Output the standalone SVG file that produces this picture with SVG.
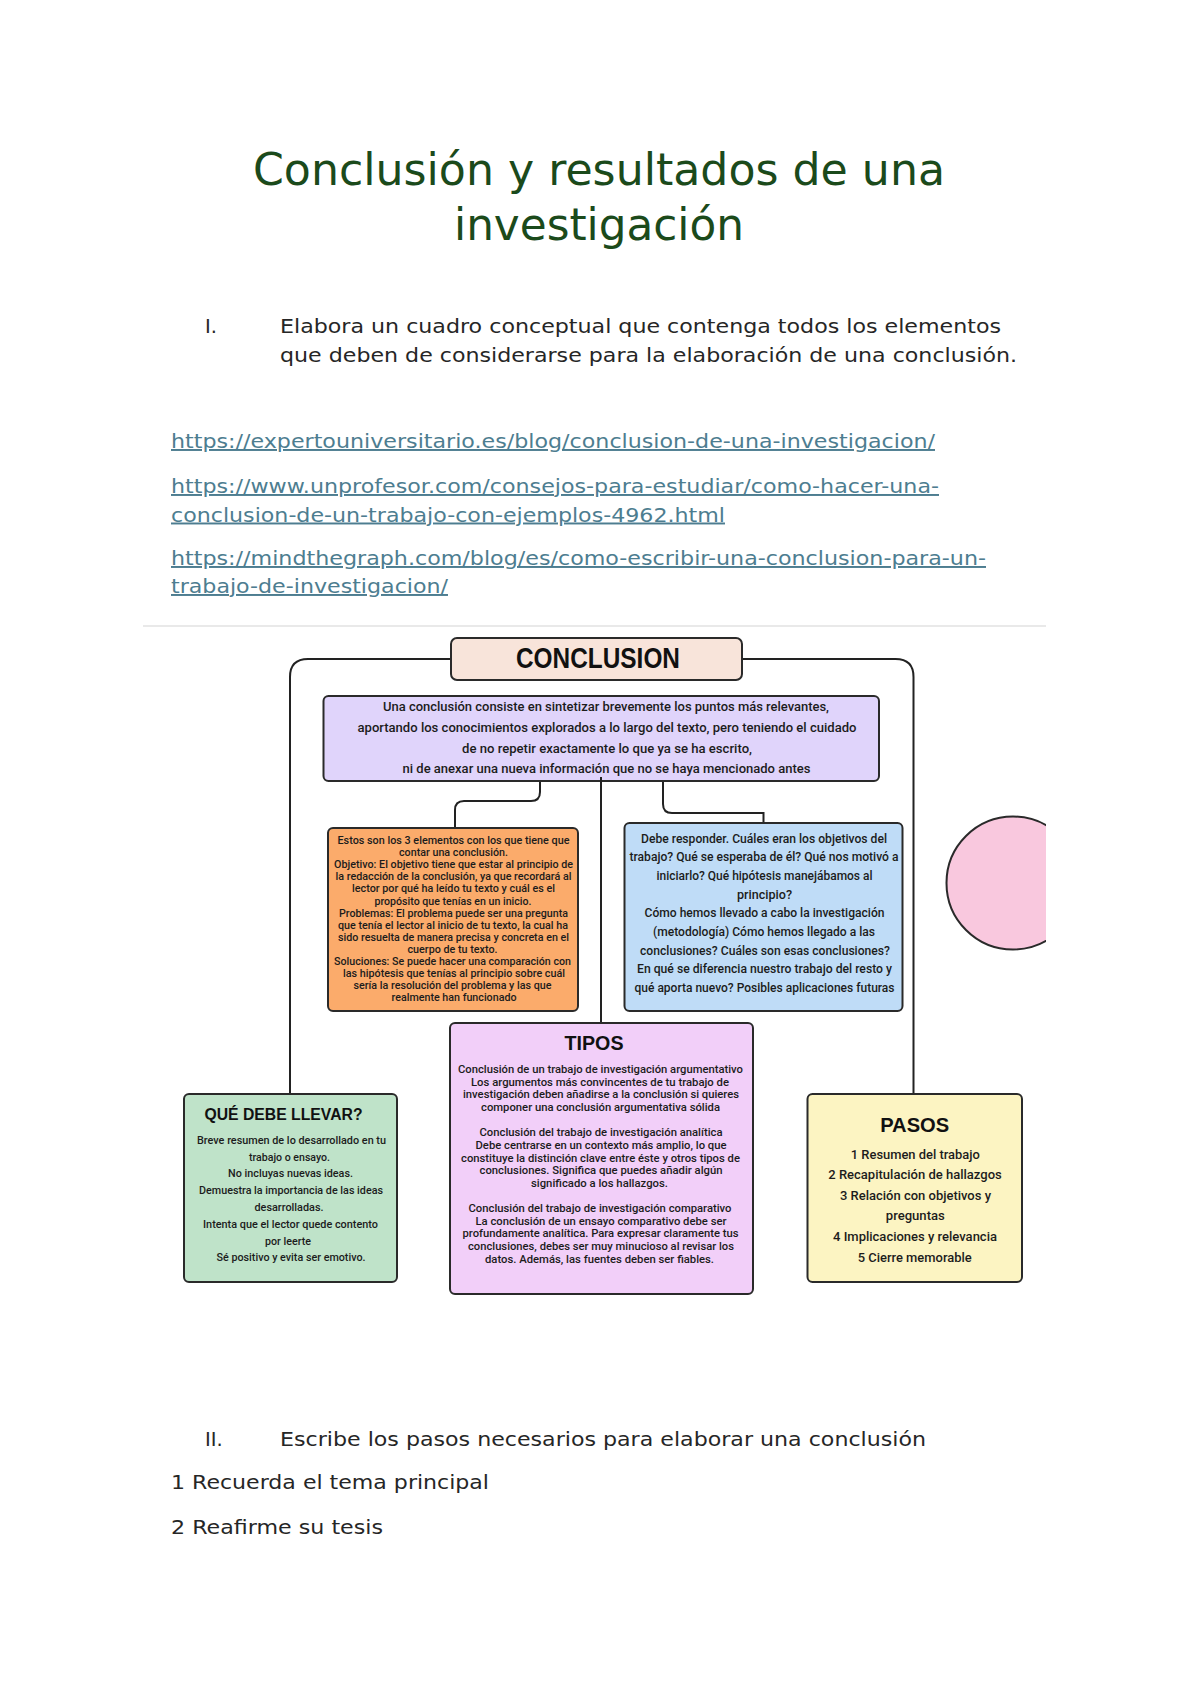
<svg xmlns="http://www.w3.org/2000/svg" width="1200" height="1696" viewBox="0 0 1200 1696">
<style>
.doc{font-family:"DejaVu Sans","Liberation Sans",sans-serif;font-size:19.5px;fill:#262626}
.title{font-family:"DejaVu Sans","Liberation Sans",sans-serif;font-size:44px;fill:#1b4a1b;text-anchor:middle}
.link{font-family:"DejaVu Sans","Liberation Sans",sans-serif;font-size:19.5px;fill:#4d7d90;text-decoration:underline}
.box{stroke:#2a2a2a;stroke-width:2}
.dg{font-family:Roboto,"Liberation Sans",sans-serif;font-weight:500;fill:#1c1c1c;text-anchor:middle}
.hd{font-family:"Liberation Sans",Arial,sans-serif;font-weight:bold;fill:#111;text-anchor:middle}
.conn{fill:none;stroke:#222;stroke-width:2}
</style>
<defs>
<clipPath id="cutR"><rect x="880" y="790" width="166" height="180"/></clipPath>
</defs>
<rect width="1200" height="1696" fill="#fff"/>

<g id="header">
<text class="title" x="599" y="185" textLength="692" lengthAdjust="spacingAndGlyphs">Conclusión y resultados de una</text>
<text class="title" x="599" y="239.5" textLength="290" lengthAdjust="spacingAndGlyphs">investigación</text>
<text class="doc" x="205" y="333">I.</text>
<text class="doc" x="280" y="333" textLength="721" lengthAdjust="spacingAndGlyphs">Elabora un cuadro conceptual que contenga todos los elementos</text>
<text class="doc" x="280" y="361.5" textLength="737" lengthAdjust="spacingAndGlyphs">que deben de considerarse para la elaboración de una conclusión.</text>
<text class="link" x="171" y="448" textLength="764" lengthAdjust="spacingAndGlyphs">https://expertouniversitario.es/blog/conclusion-de-una-investigacion/</text>
<text class="link" x="171" y="493" textLength="768" lengthAdjust="spacingAndGlyphs">https://www.unprofesor.com/consejos-para-estudiar/como-hacer-una-</text>
<text class="link" x="171" y="521.5" textLength="554" lengthAdjust="spacingAndGlyphs">conclusion-de-un-trabajo-con-ejemplos-4962.html</text>
<text class="link" x="171" y="565" textLength="815" lengthAdjust="spacingAndGlyphs">https://mindthegraph.com/blog/es/como-escribir-una-conclusion-para-un-</text>
<text class="link" x="171" y="593" textLength="277" lengthAdjust="spacingAndGlyphs">trabajo-de-investigacion/</text>
<rect x="143" y="625" width="903" height="2" fill="#e9e9e9"/>
</g>

<g id="connectors">
<path class="conn" d="M290,1094 V677 Q290,659 308,659 H451"/>
<path class="conn" d="M742,659 H895.5 Q913.5,659 913.5,677 V1094"/>
<path class="conn" d="M540,781 V792 Q540,801 531,801 H464 Q455,801 455,810 V828"/>
<path class="conn" d="M663,781 V804 Q663,813 672,813 H763.5 V823"/>
</g>

<g id="node-conclusion">
<rect class="box" x="451" y="638" width="291" height="42" rx="6" fill="#f8e4da"/>
<text class="hd" x="598" y="668" font-size="29" textLength="164" lengthAdjust="spacingAndGlyphs">CONCLUSION</text>
</g>

<g id="node-definicion">
<rect class="box" x="323.5" y="696" width="555.5" height="85" rx="5" fill="#e0d4fb"/>
<g class="dg" font-size="12.5">
<text x="606" y="711.2" textLength="446" lengthAdjust="spacingAndGlyphs">Una conclusión consiste en sintetizar brevemente los puntos más relevantes,</text>
<text x="607" y="731.9" textLength="499" lengthAdjust="spacingAndGlyphs">aportando los conocimientos explorados a lo largo del texto, pero teniendo el cuidado</text>
<text x="607" y="752.6" textLength="290" lengthAdjust="spacingAndGlyphs">de no repetir exactamente lo que ya se ha escrito,</text>
<text x="606.5" y="773.3" textLength="408" lengthAdjust="spacingAndGlyphs">ni de anexar una nueva información que no se haya mencionado antes</text>
</g>
</g>

<path class="conn" d="M601,777 V1023"/>

<g id="node-elementos">
<rect class="box" x="328" y="828" width="250" height="183" rx="5" fill="#fbab6b"/>
<g class="dg" font-size="10.5">
<text x="453.5" y="844" textLength="232" lengthAdjust="spacingAndGlyphs">Estos son los 3 elementos con los que tiene que</text>
<text x="453.5" y="856.1" textLength="109" lengthAdjust="spacingAndGlyphs">contar una conclusión.</text>
<text x="453.5" y="868.2" textLength="239" lengthAdjust="spacingAndGlyphs">Objetivo: El objetivo tiene que estar al principio de</text>
<text x="453.5" y="880.3" textLength="236" lengthAdjust="spacingAndGlyphs">la redacción de la conclusión, ya que recordará al</text>
<text x="453.5" y="892.4" textLength="203" lengthAdjust="spacingAndGlyphs">lector por qué ha leído tu texto y cuál es el</text>
<text x="453" y="904.5" textLength="157" lengthAdjust="spacingAndGlyphs">propósito que tenías en un inicio.</text>
<text x="453.5" y="916.6" textLength="229" lengthAdjust="spacingAndGlyphs">Problemas: El problema puede ser una pregunta</text>
<text x="453" y="928.7" textLength="230" lengthAdjust="spacingAndGlyphs">que tenía el lector al inicio de tu texto, la cual ha</text>
<text x="453.5" y="940.8" textLength="231" lengthAdjust="spacingAndGlyphs">sido resuelta de manera precisa y concreta en el</text>
<text x="452.5" y="952.9" textLength="90" lengthAdjust="spacingAndGlyphs">cuerpo de tu texto.</text>
<text x="452.5" y="965" textLength="237" lengthAdjust="spacingAndGlyphs">Soluciones: Se puede hacer una comparación con</text>
<text x="454" y="977.1" textLength="222" lengthAdjust="spacingAndGlyphs">las hipótesis que tenías al principio sobre cuál</text>
<text x="452.5" y="989.2" textLength="198" lengthAdjust="spacingAndGlyphs">sería la resolución del problema y las que</text>
<text x="454" y="1001.3" textLength="125" lengthAdjust="spacingAndGlyphs">realmente han funcionado</text>
</g>
</g>

<g id="node-responder">
<rect class="box" x="624.5" y="823" width="278" height="188" rx="5" fill="#bfdcf7"/>
<g class="dg" font-size="12">
<text x="764" y="842.5" textLength="246" lengthAdjust="spacingAndGlyphs">Debe responder. Cuáles eran los objetivos del</text>
<text x="764" y="861.2" textLength="269" lengthAdjust="spacingAndGlyphs">trabajo? Qué se esperaba de él? Qué nos motivó a</text>
<text x="764.5" y="879.9" textLength="216" lengthAdjust="spacingAndGlyphs">iniciarlo? Qué hipótesis manejábamos al</text>
<text x="764.5" y="898.6" textLength="55" lengthAdjust="spacingAndGlyphs">principio?</text>
<text x="764.5" y="917.3" textLength="240" lengthAdjust="spacingAndGlyphs">Cómo hemos llevado a cabo la investigación</text>
<text x="764" y="936" textLength="222" lengthAdjust="spacingAndGlyphs">(metodología) Cómo hemos llegado a las</text>
<text x="765" y="954.7" textLength="250" lengthAdjust="spacingAndGlyphs">conclusiones? Cuáles son esas conclusiones?</text>
<text x="764.5" y="973.4" textLength="255" lengthAdjust="spacingAndGlyphs">En qué se diferencia nuestro trabajo del resto y</text>
<text x="764.5" y="992.1" textLength="260" lengthAdjust="spacingAndGlyphs">qué aporta nuevo? Posibles aplicaciones futuras</text>
</g>
</g>

<g id="node-circulo" clip-path="url(#cutR)">
<circle cx="1013" cy="883" r="66.5" fill="#f9c8de" stroke="#2a2a2a" stroke-width="2"/>
</g>

<g id="node-tipos">
<rect class="box" x="450" y="1023" width="303" height="271" rx="5" fill="#f2cff9"/>
<text class="hd" x="594" y="1050" font-size="20" textLength="59" lengthAdjust="spacingAndGlyphs">TIPOS</text>
<g class="dg" font-size="10.5">
<text x="600.5" y="1073" textLength="285" lengthAdjust="spacingAndGlyphs">Conclusión de un trabajo de investigación argumentativo</text>
<text x="600" y="1085.65" textLength="258" lengthAdjust="spacingAndGlyphs">Los argumentos más convincentes de tu trabajo de</text>
<text x="601" y="1098.3" textLength="276" lengthAdjust="spacingAndGlyphs">investigación deben añadirse a la conclusión si quieres</text>
<text x="600.5" y="1110.95" textLength="239" lengthAdjust="spacingAndGlyphs">componer una conclusión argumentativa sólida</text>
<text x="601" y="1136.25" textLength="243" lengthAdjust="spacingAndGlyphs">Conclusión del trabajo de investigación analítica</text>
<text x="601" y="1148.9" textLength="251" lengthAdjust="spacingAndGlyphs">Debe centrarse en un contexto más amplio, lo que</text>
<text x="600.5" y="1161.55" textLength="279" lengthAdjust="spacingAndGlyphs">constituye la distinción clave entre éste y otros tipos de</text>
<text x="601" y="1174.2" textLength="243" lengthAdjust="spacingAndGlyphs">conclusiones. Significa que puedes añadir algún</text>
<text x="599.5" y="1186.85" textLength="137" lengthAdjust="spacingAndGlyphs">significado a los hallazgos.</text>
<text x="600" y="1212.15" textLength="263" lengthAdjust="spacingAndGlyphs">Conclusión del trabajo de investigación comparativo</text>
<text x="601" y="1224.8" textLength="251" lengthAdjust="spacingAndGlyphs">La conclusión de un ensayo comparativo debe ser</text>
<text x="600.5" y="1237.45" textLength="276" lengthAdjust="spacingAndGlyphs">profundamente analítica. Para expresar claramente tus</text>
<text x="601" y="1250.1" textLength="266" lengthAdjust="spacingAndGlyphs">conclusiones, debes ser muy minucioso al revisar los</text>
<text x="599.5" y="1262.75" textLength="229" lengthAdjust="spacingAndGlyphs">datos. Además, las fuentes deben ser fiables.</text>
</g>
</g>

<g id="node-que-debe-llevar">
<rect class="box" x="184" y="1094" width="213" height="188" rx="5" fill="#bfe3c9"/>
<text class="hd" x="283.5" y="1120" font-size="16" textLength="158" lengthAdjust="spacingAndGlyphs">QUÉ DEBE LLEVAR?</text>
<g class="dg" font-size="10.5">
<text x="291.5" y="1143.8" textLength="189" lengthAdjust="spacingAndGlyphs">Breve resumen de lo desarrollado en tu</text>
<text x="289.5" y="1160.6" textLength="81" lengthAdjust="spacingAndGlyphs">trabajo o ensayo.</text>
<text x="290.5" y="1177.4" textLength="125" lengthAdjust="spacingAndGlyphs">No incluyas nuevas ideas.</text>
<text x="291" y="1194.2" textLength="184" lengthAdjust="spacingAndGlyphs">Demuestra la importancia de las ideas</text>
<text x="289" y="1211" textLength="69" lengthAdjust="spacingAndGlyphs">desarrolladas.</text>
<text x="290.5" y="1227.8" textLength="175" lengthAdjust="spacingAndGlyphs">Intenta que el lector quede contento</text>
<text x="288" y="1244.6" textLength="46" lengthAdjust="spacingAndGlyphs">por leerte</text>
<text x="291" y="1261.4" textLength="149" lengthAdjust="spacingAndGlyphs">Sé positivo y evita ser emotivo.</text>
</g>
</g>

<g id="node-pasos">
<rect class="box" x="807.5" y="1094" width="214.5" height="188" rx="5" fill="#fcf4c2"/>
<text class="hd" x="914.7" y="1131.5" font-size="20" textLength="69" lengthAdjust="spacingAndGlyphs">PASOS</text>
<g class="dg" font-size="12.5">
<text x="915.3" y="1158.5" textLength="129" lengthAdjust="spacingAndGlyphs">1 Resumen del trabajo</text>
<text x="915" y="1179.1" textLength="173.5" lengthAdjust="spacingAndGlyphs">2 Recapitulación de hallazgos</text>
<text x="915.5" y="1199.7" textLength="151" lengthAdjust="spacingAndGlyphs">3 Relación con objetivos y</text>
<text x="915.3" y="1220.3" textLength="59" lengthAdjust="spacingAndGlyphs">preguntas</text>
<text x="915" y="1240.9" textLength="164" lengthAdjust="spacingAndGlyphs">4 Implicaciones y relevancia</text>
<text x="914.7" y="1261.5" textLength="114" lengthAdjust="spacingAndGlyphs">5 Cierre memorable</text>
</g>
</g>

<g id="footer">
<text class="doc" x="205" y="1445.5">II.</text>
<text class="doc" x="280" y="1445.5" textLength="646" lengthAdjust="spacingAndGlyphs">Escribe los pasos necesarios para elaborar una conclusión</text>
<text class="doc" x="171" y="1489" textLength="318" lengthAdjust="spacingAndGlyphs">1 Recuerda el tema principal</text>
<text class="doc" x="171" y="1534" textLength="212" lengthAdjust="spacingAndGlyphs">2 Reafirme su tesis</text>
</g>
</svg>
